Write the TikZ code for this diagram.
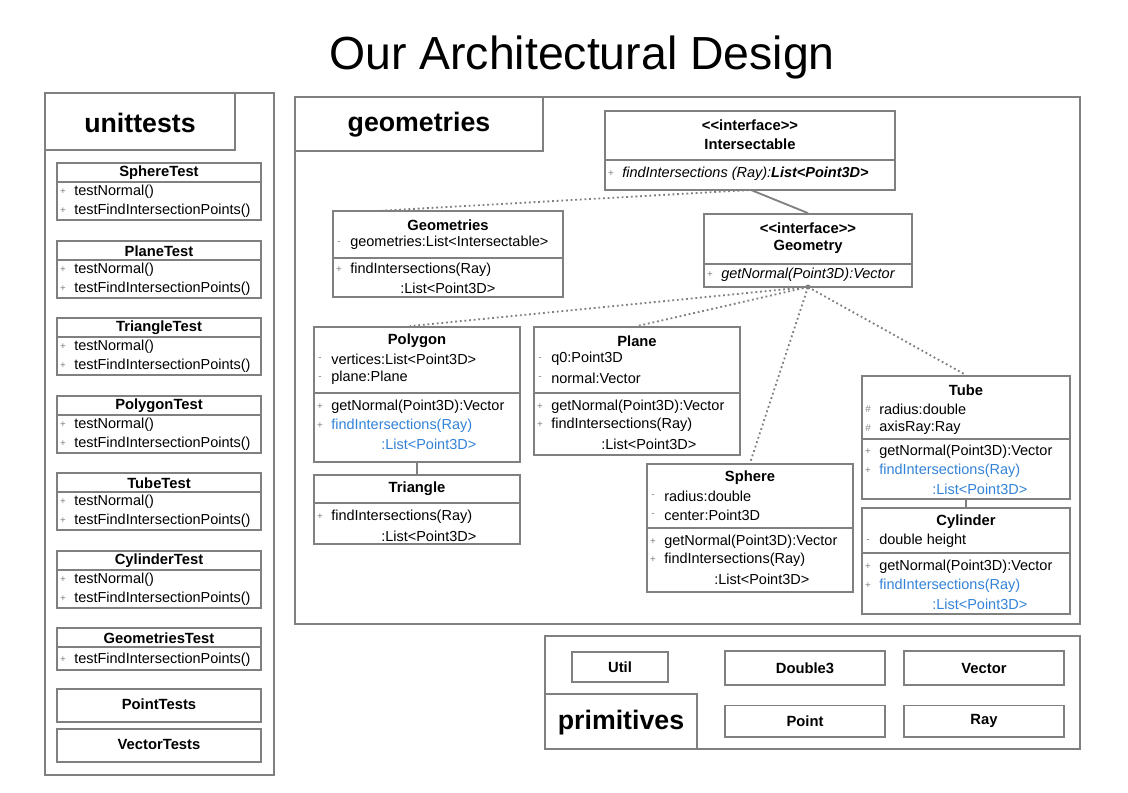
\documentclass[tikz,border=0pt]{standalone}
\usepackage{fontspec}
\setmainfont{Liberation Sans}
\usetikzlibrary{calc,fit}
\definecolor{gc}{RGB}{128,128,128}
\definecolor{bc}{RGB}{50,130,215}
\tikzset{
  frame/.style={draw=gc, line width=1.3pt},
  cls/.style={draw=gc, line width=1.3pt, rectangle, inner sep=0pt},
  cname/.style={font=\fontsize{10.5}{12}\selectfont\bfseries},
  mem/.style={anchor=west, inner sep=0pt, font=\fontsize{10.3}{12}\selectfont},
  vis/.style={anchor=center, inner sep=0pt, text=gc, font=\fontsize{7}{8}\selectfont},
  bluetxt/.style={text=bc},
  dep/.style={draw=gc, line width=1.3pt, dotted},
  rel/.style={draw=gc, line width=1.3pt}
}
% box with header line: name, corners, y of line
\newcommand{\umlbox}[6]{%
  \node[cls, fit={(#2,#3) (#4,#5)}] (#1) {};
  \draw[rel] (#2,#6) -- (#4,#6);}
\newcommand{\mbr}[4]{% x, y, sign, text
  \node[vis] at (#1+6,#2) {#3};
  \node[mem] at (#1+17,#2) {#4};}
\newcommand{\iface}{{<}{<}interface{>}{>}}
\begin{document}
\begin{tikzpicture}[x=0.025cm, y=-0.025cm]
\useasboundingbox (0,0) rectangle (1128,792);

\node[font=\fontsize{33}{36}\selectfont] (title) at (582,57) {Our Architectural Design};

% unittests package
\draw[frame] (45,93) rectangle (274,775);
\draw[frame] (45,93) rectangle (235,150);
\node[font=\fontsize{19}{22}\selectfont\bfseries] (unittests) at (140,123) {unittests};

\foreach \nm/\y in {SphereTest/163, PlaneTest/241, TriangleTest/318, PolygonTest/396, TubeTest/473, CylinderTest/551}{
  \umlbox{\nm}{57}{\y}{261}{\y+57}{\y+19}
  \node[cname] at (159,\y+10) {\nm};
  \mbr{57}{\y+29}{+}{testNormal()}
  \mbr{57}{\y+48}{+}{testFindIntersectionPoints()}
}
\umlbox{GeometriesTest}{57}{628}{261}{670}{647}
\node[cname] at (159,638) {GeometriesTest};
\mbr{57}{660}{+}{testFindIntersectionPoints()}
\node[cls, fit={(57,689) (261,722)}] (PointTests) {};
\node[cname] at (159,704) {PointTests};
\node[cls, fit={(57,729) (261,762)}] (VectorTests) {};
\node[cname] at (159,744) {VectorTests};

% geometries package
\draw[frame] (295,97) rectangle (1080,624);
\draw[frame] (295,97) rectangle (543,151);
\node[font=\fontsize{19}{22}\selectfont\bfseries] (geometries) at (419,125) {geometries};

% Intersectable
\umlbox{Intersectable}{605}{111}{895}{190}{160}
\node[cname] at (750,125) {\iface};
\node[cname] at (750,144) {Intersectable};
\mbr{605}{174}{+}{\textit{findIntersections (Ray):\textbf{List<Point3D>}}}

% Geometries
\umlbox{Geometries}{333}{211}{563}{297}{258}
\node[cname] at (448,225) {Geometries};
\mbr{333}{243}{-}{geometries:List<Intersectable>}
\mbr{333}{270}{+}{findIntersections(Ray)}
\node[mem] at (400,288) {:List<Point3D>};

% Geometry
\umlbox{Geometry}{704}{214}{912}{287}{264}
\node[cname] at (808,228) {\iface};
\node[cname] at (808,247) {Geometry};
\mbr{704}{275}{+}{\textit{getNormal(Point3D):Vector}}

% Polygon
\umlbox{Polygon}{314}{327}{520}{462}{393}
\node[cname] at (417,341) {Polygon};
\mbr{314}{359}{-}{vertices:List<Point3D>}
\mbr{314}{378}{-}{plane:Plane}
\mbr{314}{407}{+}{getNormal(Point3D):Vector}
\mbr{314}{426}{+}{\textcolor{bc}{findIntersections(Ray)}}
\node[mem, bluetxt] at (381,444) {:List<Point3D>};

% Triangle
\umlbox{Triangle}{314}{475}{520}{544}{503}
\node[cname] at (417,489) {Triangle};
\mbr{314}{517}{+}{findIntersections(Ray)}
\node[mem] at (381,536) {:List<Point3D>};

% Plane
\umlbox{Plane}{534}{327}{740}{455}{393}
\node[cname] at (637,341) {Plane};
\mbr{534}{359}{-}{q0:Point3D}
\mbr{534}{378}{-}{normal:Vector}
\mbr{534}{407}{+}{getNormal(Point3D):Vector}
\mbr{534}{425}{+}{findIntersections(Ray)}
\node[mem] at (601,444) {:List<Point3D>};

% Sphere
\umlbox{Sphere}{647}{464}{853}{592}{528}
\node[cname] at (750,478) {Sphere};
\mbr{647}{496}{-}{radius:double}
\mbr{647}{515}{-}{center:Point3D}
\mbr{647}{542}{+}{getNormal(Point3D):Vector}
\mbr{647}{560}{+}{findIntersections(Ray)}
\node[mem] at (714,579) {:List<Point3D>};

% Tube
\umlbox{Tube}{862}{376}{1070}{499}{439}
\node[cname] at (966,390) {Tube};
\mbr{862}{409}{\#}{radius:double}
\mbr{862}{428}{\#}{axisRay:Ray}
\mbr{862}{452}{+}{getNormal(Point3D):Vector}
\mbr{862}{471}{+}{\textcolor{bc}{findIntersections(Ray)}}
\node[mem, bluetxt] at (932,489) {:List<Point3D>};

% Cylinder
\umlbox{Cylinder}{862}{508}{1070}{614}{553}
\node[cname] at (966,522) {Cylinder};
\mbr{862}{541}{-}{double height}
\mbr{862}{567}{+}{getNormal(Point3D):Vector}
\mbr{862}{586}{+}{\textcolor{bc}{findIntersections(Ray)}}
\node[mem, bluetxt] at (932,604) {:List<Point3D>};

% connectors
\coordinate (iBot) at (751,190);
\coordinate (gBot) at (808,287);
\coordinate (gsTop) at (376,211);
\draw[dep] (gsTop) -- (iBot);
\draw[rel] (Geometry.north) -- (iBot);
\fill[gc] (gBot) circle (2.5);
\draw[dep] (gBot) -- ($(Polygon.north)+(-7,0)$);
\draw[dep] (gBot) -- (Plane.north);
\draw[dep] (gBot) -- (Sphere.north);
\draw[dep] (gBot) -- (Tube.north);
\draw[rel] (Polygon.south) -- (Triangle.north);
\draw[rel] (Tube.south) -- (Cylinder.north);

% primitives package
\draw[frame] (545,636) rectangle (1080,749);
\draw[frame] (545,694) rectangle (697,749);
\node[font=\fontsize{19}{22}\selectfont\bfseries] (primitives) at (621,723) {primitives};
\node[cls, cname, minimum width=2.4cm, minimum height=0.75cm] (Util) at (620,667) {Util};
\node[cls, cname, minimum width=4cm, minimum height=0.85cm] (Double3) at (805,668) {Double3};
\node[cls, cname, minimum width=4cm, minimum height=0.85cm] (Vector) at (984,668) {Vector};
\node[cls, cname, minimum width=4cm, minimum height=0.78cm] (Point) at (805,721) {Point};
\node[cls, cname, minimum width=4cm, minimum height=0.78cm] (Ray) at (984,721) {Ray};
\end{tikzpicture}
\end{document}
